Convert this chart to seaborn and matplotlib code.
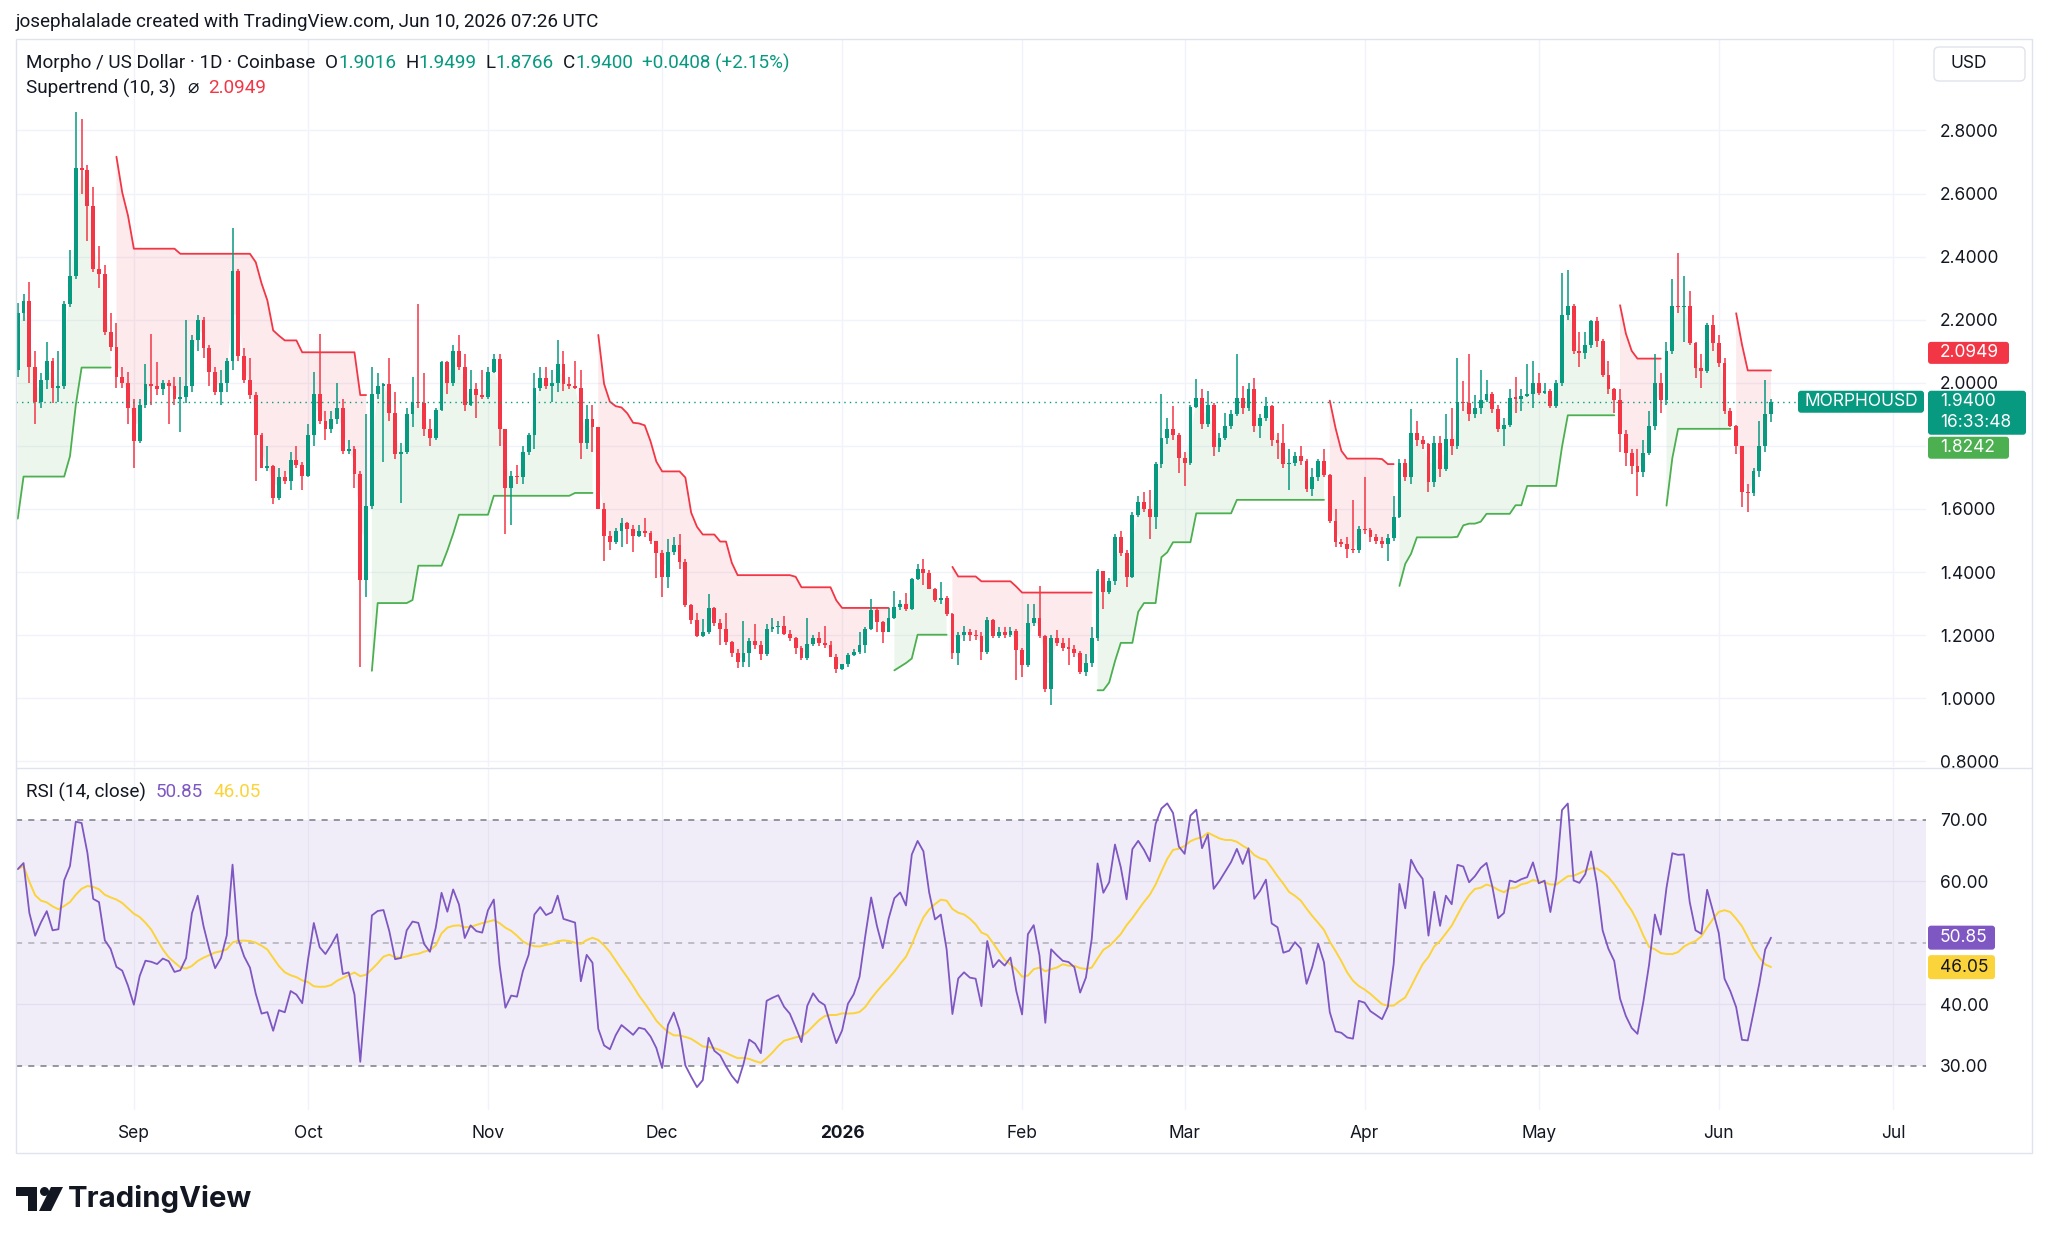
import numpy as np
import pandas as pd
import matplotlib
matplotlib.use('Agg')
import matplotlib.pyplot as plt
import seaborn as sns
from matplotlib.patches import Rectangle, FancyBboxPatch, Polygon, Circle

sns.set_theme(style='white')
plt.rcParams['font.family'] = ['Roboto', 'DejaVu Sans']

## MORPHOUSD daily candles (Coinbase), Aug 12 2025 -> Jun 10 2026
start_date = '2025-08-12'
first_open = 2.04

closes = [
    2.22, 2.26, 2.05, 1.94, 2.01, 2.07, 1.985, 1.99, 2.25, 2.34,
    2.68, 2.675, 2.56, 2.36, 2.345, 2.16, 2.115, 2.02, 2.00, 1.92,
    1.815, 1.93, 1.995, 1.99, 1.98, 2.00, 1.99, 1.95, 1.955, 1.99,
    2.135, 2.20, 2.11, 2.035, 1.97, 2.00, 2.07, 2.355, 2.085, 2.01,
    1.96, 1.835, 1.73, 1.735, 1.635, 1.70, 1.69, 1.755, 1.74, 1.705,
    1.835, 1.965, 1.88, 1.855, 1.885, 1.92, 1.785, 1.79, 1.71, 1.375,
    1.61, 1.965, 1.99, 1.995, 1.905, 1.775, 1.78, 1.90, 1.94, 1.935,
    1.855, 1.825, 1.915, 2.065, 2.00, 2.10, 2.05, 1.93, 1.98, 1.96,
    1.955, 2.035, 2.075, 1.855, 1.665, 1.705, 1.70, 1.78, 1.835, 1.985,
    2.015, 1.99, 2.00, 2.06, 1.995, 1.99, 1.985, 1.81, 1.885, 1.86,
    1.60, 1.515, 1.495, 1.53, 1.555, 1.535, 1.515, 1.53, 1.525, 1.50,
    1.46, 1.385, 1.463, 1.487, 1.432, 1.297, 1.247, 1.198, 1.21, 1.285,
    1.237, 1.22, 1.179, 1.142, 1.114, 1.142, 1.18, 1.168, 1.14, 1.221,
    1.226, 1.23, 1.205, 1.19, 1.16, 1.126, 1.173, 1.19, 1.175, 1.168,
    1.132, 1.093, 1.107, 1.137, 1.148, 1.168, 1.221, 1.28, 1.242, 1.21,
    1.255, 1.29, 1.30, 1.284, 1.379, 1.41, 1.398, 1.347, 1.31, 1.318,
    1.268, 1.145, 1.20, 1.21, 1.20, 1.198, 1.147, 1.247, 1.198, 1.21,
    1.20, 1.212, 1.153, 1.105, 1.237, 1.255, 1.198, 1.03, 1.19, 1.174,
    1.16, 1.157, 1.145, 1.084, 1.112, 1.19, 1.402, 1.337, 1.371, 1.51,
    1.46, 1.384, 1.582, 1.621, 1.60, 1.574, 1.742, 1.826, 1.855, 1.835,
    1.763, 1.747, 1.922, 1.953, 1.868, 1.93, 1.795, 1.826, 1.863, 1.90,
    1.953, 1.92, 1.98, 1.863, 1.89, 1.928, 1.82, 1.81, 1.742, 1.747,
    1.768, 1.753, 1.663, 1.70, 1.752, 1.707, 1.563, 1.495, 1.49, 1.474,
    1.47, 1.537, 1.532, 1.51, 1.50, 1.49, 1.508, 1.574, 1.747, 1.70,
    1.842, 1.82, 1.805, 1.684, 1.81, 1.726, 1.821, 1.80, 1.939, 1.935,
    1.90, 1.92, 1.947, 1.963, 1.918, 1.853, 1.866, 1.953, 1.95, 1.958,
    1.963, 2.00, 1.968, 1.974, 1.926, 2.00, 2.216, 2.244, 2.10, 2.095,
    2.121, 2.195, 2.132, 2.026, 1.979, 1.947, 1.837, 1.779, 1.737, 1.716,
    1.779, 1.863, 2.00, 1.947, 2.10, 2.244, 2.24, 2.242, 2.126, 2.047,
    2.037, 2.184, 2.126, 2.063, 1.91, 1.863, 1.80, 1.653, 1.65, 1.721,
    1.80, 1.9016, 1.94,
]

highs = [
    2.254, 2.28, 2.32, 2.10, 2.03, 2.13, 2.08, 2.10, 2.26, 2.42,
    2.86, 2.835, 2.69, 2.62, 2.435, 2.375, 2.22, 2.19, 2.05, 2.035,
    1.95, 1.95, 2.06, 2.154, 2.066, 2.01, 2.01, 2.02, 2.02, 2.20,
    2.15, 2.216, 2.21, 2.12, 2.05, 2.04, 2.08, 2.49, 2.36, 2.11,
    2.08, 1.97, 1.84, 1.80, 1.74, 1.73, 1.72, 1.78, 1.80, 1.75,
    1.87, 2.035, 2.154, 1.91, 1.91, 2.00, 1.95, 1.82, 1.80, 1.72,
    1.90, 2.05, 2.03, 2.00, 2.08, 1.97, 1.81, 1.92, 2.02, 2.25,
    2.03, 1.885, 1.92, 2.07, 2.07, 2.12, 2.15, 2.09, 2.04, 2.00,
    2.04, 2.05, 2.09, 2.09, 1.855, 1.72, 1.74, 1.80, 1.84, 2.03,
    2.05, 2.05, 2.04, 2.135, 2.10, 2.02, 2.07, 2.04, 1.93, 1.93,
    1.86, 1.62, 1.53, 1.54, 1.57, 1.56, 1.55, 1.55, 1.57, 1.53,
    1.50, 1.47, 1.505, 1.51, 1.52, 1.44, 1.30, 1.27, 1.25, 1.33,
    1.29, 1.25, 1.27, 1.18, 1.155, 1.245, 1.19, 1.235, 1.18, 1.235,
    1.255, 1.245, 1.26, 1.215, 1.195, 1.165, 1.255, 1.20, 1.21, 1.23,
    1.18, 1.14, 1.11, 1.145, 1.155, 1.21, 1.225, 1.315, 1.285, 1.245,
    1.285, 1.34, 1.31, 1.335, 1.38, 1.425, 1.44, 1.405, 1.35, 1.37,
    1.325, 1.27, 1.21, 1.23, 1.22, 1.215, 1.21, 1.258, 1.25, 1.225,
    1.225, 1.225, 1.22, 1.16, 1.30, 1.30, 1.356, 1.20, 1.20, 1.215,
    1.19, 1.19, 1.17, 1.15, 1.14, 1.226, 1.41, 1.40, 1.38, 1.52,
    1.53, 1.47, 1.59, 1.642, 1.655, 1.66, 1.75, 1.963, 1.89, 1.925,
    1.84, 1.78, 1.93, 2.013, 1.98, 1.975, 1.935, 1.84, 1.905, 1.915,
    2.09, 1.99, 2.00, 2.015, 1.90, 1.955, 1.93, 1.84, 1.87, 1.79,
    1.78, 1.80, 1.76, 1.73, 1.76, 1.79, 1.71, 1.60, 1.505, 1.51,
    1.63, 1.545, 1.70, 1.54, 1.52, 1.51, 1.52, 1.64, 1.76, 1.76,
    1.916, 1.88, 1.83, 1.81, 1.83, 1.83, 1.90, 1.92, 2.08, 2.005,
    2.09, 1.96, 2.04, 2.01, 1.97, 1.93, 1.89, 1.98, 2.02, 1.98,
    2.06, 2.07, 2.03, 2.00, 1.98, 2.01, 2.347, 2.358, 2.25, 2.16,
    2.16, 2.20, 2.21, 2.14, 2.07, 1.985, 1.98, 1.85, 1.79, 1.79,
    1.82, 1.91, 2.09, 2.03, 2.13, 2.33, 2.413, 2.34, 2.29, 2.13,
    2.09, 2.19, 2.215, 2.15, 2.08, 1.92, 1.865, 1.80, 1.68, 1.73,
    1.88, 2.01, 1.9499,
]

lows = [
    2.02, 2.197, 2.00, 1.87, 1.92, 1.98, 1.935, 1.94, 1.98, 2.24,
    2.33, 2.60, 2.45, 2.35, 2.30, 2.15, 2.10, 1.985, 1.985, 1.87,
    1.73, 1.81, 1.92, 1.93, 1.96, 1.96, 1.87, 1.93, 1.845, 1.935,
    1.97, 2.10, 2.08, 1.99, 1.96, 1.93, 1.97, 2.04, 2.07, 2.00,
    1.95, 1.69, 1.73, 1.72, 1.616, 1.63, 1.68, 1.66, 1.73, 1.66,
    1.70, 1.80, 1.87, 1.82, 1.84, 1.87, 1.775, 1.775, 1.666, 1.10,
    1.32, 1.60, 1.95, 1.75, 1.88, 1.76, 1.62, 1.775, 1.86, 1.92,
    1.83, 1.80, 1.82, 1.91, 1.965, 1.99, 2.04, 1.91, 1.925, 1.89,
    1.95, 1.95, 2.03, 1.80, 1.52, 1.55, 1.68, 1.68, 1.77, 1.79,
    1.975, 1.98, 1.94, 1.97, 1.975, 1.98, 1.98, 1.76, 1.79, 1.78,
    1.60, 1.435, 1.47, 1.49, 1.48, 1.49, 1.465, 1.51, 1.51, 1.49,
    1.38, 1.32, 1.35, 1.455, 1.41, 1.29, 1.235, 1.195, 1.195, 1.205,
    1.23, 1.17, 1.17, 1.13, 1.097, 1.10, 1.10, 1.155, 1.12, 1.135,
    1.21, 1.205, 1.20, 1.18, 1.14, 1.12, 1.12, 1.165, 1.165, 1.16,
    1.13, 1.08, 1.09, 1.10, 1.135, 1.14, 1.145, 1.215, 1.21, 1.175,
    1.21, 1.25, 1.28, 1.275, 1.28, 1.375, 1.36, 1.345, 1.305, 1.30,
    1.262, 1.125, 1.105, 1.18, 1.18, 1.185, 1.12, 1.14, 1.19, 1.19,
    1.19, 1.195, 1.058, 1.068, 1.10, 1.23, 1.19, 1.02, 0.978, 1.165,
    1.15, 1.105, 1.13, 1.078, 1.07, 1.10, 1.18, 1.284, 1.33, 1.36,
    1.45, 1.352, 1.38, 1.575, 1.59, 1.505, 1.535, 1.73, 1.805, 1.82,
    1.715, 1.674, 1.74, 1.92, 1.855, 1.86, 1.768, 1.78, 1.82, 1.855,
    1.895, 1.90, 1.91, 1.845, 1.825, 1.88, 1.80, 1.76, 1.73, 1.66,
    1.735, 1.74, 1.655, 1.64, 1.69, 1.70, 1.555, 1.48, 1.48, 1.445,
    1.46, 1.46, 1.52, 1.495, 1.49, 1.475, 1.436, 1.50, 1.57, 1.69,
    1.68, 1.80, 1.79, 1.653, 1.67, 1.70, 1.72, 1.77, 1.79, 1.91,
    1.88, 1.89, 1.90, 1.94, 1.905, 1.845, 1.80, 1.86, 1.905, 1.91,
    1.955, 1.92, 1.96, 1.965, 1.92, 1.92, 1.99, 2.20, 2.09, 2.05,
    2.075, 2.11, 2.115, 2.02, 1.965, 1.905, 1.78, 1.735, 1.71, 1.642,
    1.70, 1.77, 1.85, 1.905, 1.93, 2.09, 2.22, 2.13, 2.12, 2.015,
    1.985, 2.03, 2.10, 2.05, 1.90, 1.86, 1.775, 1.605, 1.59, 1.64,
    1.70, 1.78, 1.8766,
]

month_starts = ['2025-09-01', '2025-10-01', '2025-11-01', '2025-12-01', '2026-01-01',
                '2026-02-01', '2026-03-01', '2026-04-01', '2026-05-01', '2026-06-01', '2026-07-01']
month_labels = ['Sep', 'Oct', 'Nov', 'Dec', '2026', 'Feb', 'Mar', 'Apr', 'May', 'Jun', 'Jul']
price_ticks = [0.8, 1.0, 1.2, 1.4, 1.6, 1.8, 2.0, 2.2, 2.4, 2.6, 2.8]
rsi_ticks = [30, 40, 60, 70]   # 50.00 sits under the RSI value tag

last_price = 1.94
st_last = 2.0949
st_support = 1.8242
rsi_last, rsi_ma_last = 50.85, 46.05
rsi_start = 62.0   # RSI value shown at the first bar

## colours
DARK = '#131722'
UP, DOWN = '#089981', '#f23645'
ST_UP, ST_DN = '#4caf50', '#f23645'
PURPLE, YELLOW = '#7e57c2', '#fbd33a'
GRID = '#f0f3fa'
NUM_FONT = ['Inter', 'DejaVu Sans']
HEAD_SIZE = 13.6

## derived series
c = np.array(closes)
o = np.r_[first_open, c[:-1]]
h = np.maximum(np.array(highs), np.maximum(o, c))
l = np.minimum(np.array(lows), np.minimum(o, c))
n = len(c)
x = np.arange(n)
t0 = pd.Timestamp(start_date)
month_x = [(pd.Timestamp(d) - t0).days for d in month_starts]

## Supertrend (10, 3)
prev_c = np.r_[c[0], c[:-1]]
tr = np.maximum(h - l, np.maximum(abs(h - prev_c), abs(l - prev_c)))
atr = np.empty(n)
atr[0] = tr[:10].mean()
for i in range(1, n):
    atr[i] = (atr[i - 1] * 9 + tr[i]) / 10
hl2 = (h + l) / 2
lower = hl2 - 3 * atr
upper = hl2 + 3 * atr
trend = np.ones(n, dtype=int)
for i in range(1, n):
    if not (lower[i] > lower[i - 1] or c[i - 1] < lower[i - 1]):
        lower[i] = lower[i - 1]
    if not (upper[i] < upper[i - 1] or c[i - 1] > upper[i - 1]):
        upper[i] = upper[i - 1]
    if trend[i - 1] == 1:
        trend[i] = -1 if c[i] < lower[i] else 1
    else:
        trend[i] = 1 if c[i] > upper[i] else -1
st_up = np.where(trend == 1, lower, np.nan)
st_dn = np.where(trend == -1, upper, np.nan)
body_mid = (o + c) / 2

## RSI (14) + SMA 14
delta = np.diff(c, prepend=c[0])
gain = np.clip(delta, 0, None)
loss = np.clip(-delta, 0, None)
move0 = np.abs(np.diff(c[:15])).mean()
ag = np.empty(n); al = np.empty(n)
ag[0] = move0 * rsi_start / 100
al[0] = move0 * (1 - rsi_start / 100)
for i in range(1, n):
    ag[i] = (ag[i - 1] * 13 + gain[i]) / 14
    al[i] = (al[i - 1] * 13 + loss[i]) / 14
rsi = 100 - 100 / (1 + ag / al)
rsi_df = pd.DataFrame({'x': x, 'rsi': rsi,
                       'ma': pd.Series(rsi).rolling(14, min_periods=1).mean()})

## figure
W, H = 2048, 1244
fig = plt.figure(figsize=(W / 100, H / 100), dpi=100)
fig.patch.set_facecolor('white')

def frac_box(x0, y0, x1, y1):
    return [x0 / W, 1 - y1 / H, (x1 - x0) / W, (y1 - y0) / H]

ax = fig.add_axes(frac_box(16, 39, 1926, 767))
ax2 = fig.add_axes(frac_box(16, 769, 1926, 1110), sharex=ax)
xlim = (-0.3, 328.7)

## price panel
ax.set_xlim(*xlim)
ax.set_ylim(0.782, 3.09)
ax.set_axisbelow(True)
ax.set_xticks(month_x)
ax.set_yticks(price_ticks)
ax.grid(True, color=GRID, lw=1)
for s in ax.spines.values():
    s.set_visible(False)

ax.fill_between(x, st_up, body_mid, where=trend == 1, color=ST_UP, alpha=0.1, lw=0, zorder=1)
ax.fill_between(x, st_dn, body_mid, where=trend == -1, color=ST_DN, alpha=0.1, lw=0, zorder=1)
ax.plot(x, st_up, color=ST_UP, lw=1.3, zorder=2)
ax.plot(x, st_dn, color=ST_DN, lw=1.3, zorder=2)

cols = np.where(c >= o, UP, DOWN)
ax.vlines(x, l, h, colors=cols, lw=1.1, zorder=3)
ax.bar(x, np.maximum(abs(c - o), 0.004), bottom=np.minimum(o, c), width=0.66,
       color=cols, lw=0, zorder=4)
ax.axhline(last_price, color=UP, lw=1, ls=(0, (1, 3)), zorder=5)

ax.yaxis.tick_right()
ax.tick_params(axis='y', length=0, pad=10, labelsize=12.5, labelcolor=DARK)
ax.tick_params(axis='x', length=0, labelbottom=False)
ax.set_yticklabels([f'{v:.4f}' for v in price_ticks], family=NUM_FONT)

## RSI panel
ax2.set_ylim(22.8, 78.3)
ax2.set_axisbelow(True)
ax2.set_yticks(rsi_ticks)
ax2.grid(True, axis='x', color=GRID, lw=1)
for s in ax2.spines.values():
    s.set_visible(False)
ax2.axhspan(30, 70, color=PURPLE, alpha=0.1, lw=0)
for lv in (60, 40):
    ax2.axhline(lv, color='#e4dff0', lw=1)
for lv, a in ((70, 1.0), (50, 0.55), (30, 1.0)):
    ax2.axhline(lv, color='#787b86', lw=1.1, ls=(0, (4, 4)), alpha=a)
sns.lineplot(data=rsi_df, x='x', y='ma', ax=ax2, color=YELLOW, lw=1.4)
sns.lineplot(data=rsi_df, x='x', y='rsi', ax=ax2, color=PURPLE, lw=1.3)
ax2.set_xlabel('')
ax2.set_ylabel('')
ax2.yaxis.tick_right()
ax2.tick_params(axis='y', length=0, pad=10, labelsize=12.5, labelcolor=DARK)
ax2.set_yticklabels([f'{v:.2f}' for v in rsi_ticks], family=NUM_FONT)
ax2.set_xticks(month_x)
ax2.set_xticklabels(month_labels, family=NUM_FONT)
ax2.tick_params(axis='x', length=0, pad=11, labelsize=12.5, labelcolor=DARK)
for lab in ax2.get_xticklabels():
    if lab.get_text() == '2026':
        lab.set_fontweight('bold')
ax2.set_xlim(*xlim)

## overlay in pixel coordinates (top-left origin)
ov = fig.add_axes([0, 0, 1, 1], zorder=10)
ov.set_xlim(0, W)
ov.set_ylim(H, 0)
ov.axis('off')
renderer = fig.canvas.get_renderer()

def y_of(axis, v):
    return H - axis.transData.transform((0, v))[1]

def colored_text(x0, y0, parts, size):
    for txt, col, gap in parts:
        t = ov.text(x0, y0, txt, color=col, fontsize=size, va='center', ha='left')
        x0 += t.get_window_extent(renderer=renderer).width + gap

# frame
ov.add_patch(Rectangle((16, 39), 2016, 1114, fill=False, ec='#e0e3eb', lw=1))
ov.plot([16, 2032], [768, 768], color='#e0e3eb', lw=1)

ov.text(16, 22, 'josephalalade created with TradingView.com, Jun 10, 2026 07:26 UTC',
        color=DARK, fontsize=HEAD_SIZE, va='center')
colored_text(26, 63, [('Morpho / US Dollar · 1D · Coinbase', DARK, 10),
                      ('O', DARK, 0), ('1.9016', UP, 9),
                      ('H', DARK, 0), ('1.9499', UP, 9),
                      ('L', DARK, 0), ('1.8766', UP, 9),
                      ('C', DARK, 0), ('1.9400', UP, 9),
                      ('+0.0408 (+2.15%)', UP, 0)], HEAD_SIZE)
colored_text(26, 88, [('Supertrend (10, 3)', DARK, 11), ('⌀', DARK, 10),
                      (f'{st_last:.4f}', ST_DN, 0)], HEAD_SIZE)
colored_text(26, 792, [('RSI (14, close)', DARK, 10), (f'{rsi_last:.2f}', PURPLE, 10),
                       (f'{rsi_ma_last:.2f}', YELLOW, 0)], HEAD_SIZE)

# USD box
ov.add_patch(FancyBboxPatch((1934, 47), 91, 34, boxstyle='round,pad=0,rounding_size=5',
                            fc='white', ec='#e0e3eb', lw=1))
ov.text(1950, 64, 'USD', color=DARK, fontsize=12.5, va='center', family=NUM_FONT)

def price_tag(x0, yc, w, hgt, fc, label, tc='white'):
    ov.add_patch(FancyBboxPatch((x0, yc - hgt / 2), w, hgt,
                                boxstyle='round,pad=0,rounding_size=3', fc=fc, ec='none'))
    ov.text(x0 + 12, yc, label, color=tc, fontsize=12.5, va='center', family=NUM_FONT)

y_st = y_of(ax, st_last)
y_lp = y_of(ax, last_price)
price_tag(1928, y_st, 81, 22, ST_DN, f'{st_last:.4f}')
ov.add_patch(FancyBboxPatch((1928, y_lp - 11), 98, 44,
                            boxstyle='round,pad=0,rounding_size=3', fc=UP, ec='none'))
ov.text(1940, y_lp, f'{last_price:.4f}', color='white', fontsize=12.5, va='center',
        family=NUM_FONT)
ov.text(1940, y_lp + 21, '16:33:48', color='white', fontsize=12.5, va='center',
        family=NUM_FONT)
price_tag(1928, y_lp + 46, 81, 22, ST_UP, f'{st_support:.4f}')
ov.add_patch(FancyBboxPatch((1798, y_lp - 11), 126, 22,
                            boxstyle='round,pad=0,rounding_size=3', fc=UP, ec='none'))
ov.text(1861, y_lp, 'MORPHOUSD', color='white', fontsize=12.5, va='center', ha='center',
        family=NUM_FONT)

price_tag(1928, y_of(ax2, rsi_last), 67, 24, PURPLE, f'{rsi_last:.2f}')
price_tag(1928, y_of(ax2, rsi_ma_last), 67, 24, YELLOW, f'{rsi_ma_last:.2f}', tc=DARK)

# TradingView wordmark
ov.add_patch(Rectangle((16, 1187), 21, 9, color=DARK, lw=0))
ov.add_patch(Rectangle((28, 1187), 9, 24, color=DARK, lw=0))
ov.add_patch(Circle((44.5, 1191.5), 4.5, color=DARK, lw=0))
ov.add_patch(Polygon([(51, 1187), (63, 1187), (51, 1211), (39, 1211)], closed=True, color=DARK, lw=0))
tv = ov.text(68, 1199, 'TradingView', color=DARK, fontsize=20, fontweight='bold',
             va='center', family=NUM_FONT)
tv.set_fontsize(20 * 184 / tv.get_window_extent(renderer=renderer).width)

fig.savefig('out.png', dpi=100, facecolor='white')
